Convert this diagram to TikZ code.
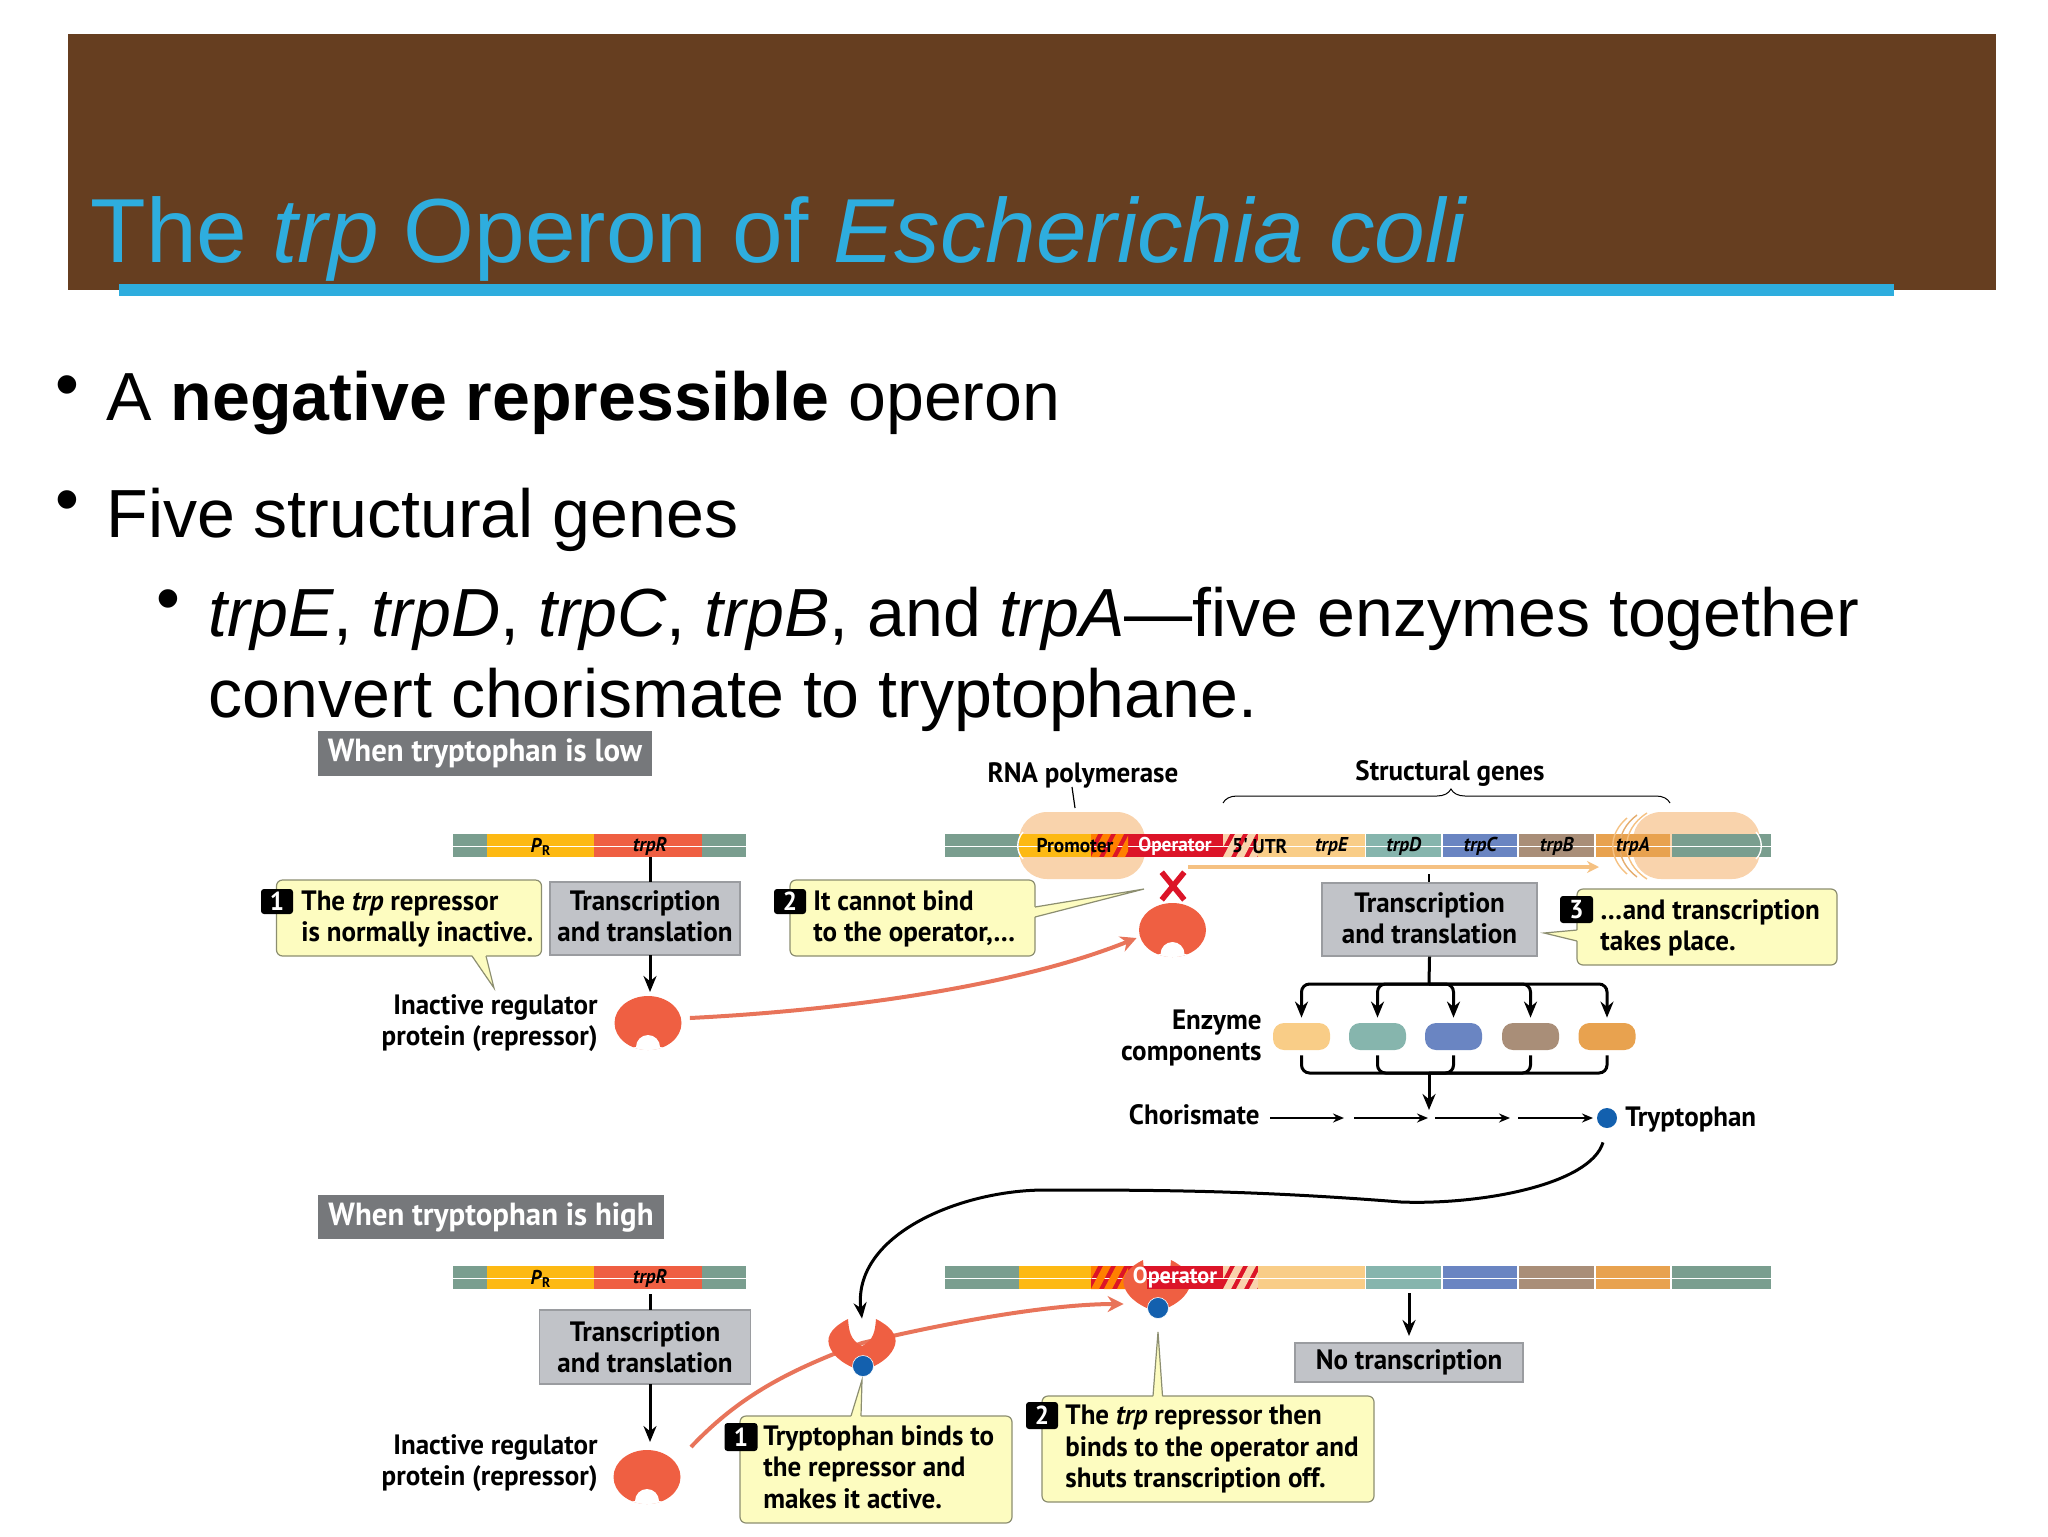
\documentclass[tikz,border=0pt]{standalone}
\usepackage{fontspec}
\setmainfont{Liberation Sans}
\newfontfamily\figfont[FakeStretch=0.965]{PT Sans}
\usetikzlibrary{arrows.meta,shapes.geometric,shapes.misc,positioning}
\usetikzlibrary{decorations.pathreplacing}

\definecolor{headbrown}{HTML}{663E20}
\definecolor{titleblue}{HTML}{2EADDE}
\definecolor{labelgrey}{HTML}{76787B}
\definecolor{boxgrey}{HTML}{C1C3C8}
\definecolor{boxedge}{HTML}{9A9CA0}
\definecolor{noteyellow}{HTML}{FDFCC0}
\definecolor{noteedge}{HTML}{8C8E70}
\definecolor{dnagreen}{HTML}{7A9E8F}
\definecolor{promyellow}{HTML}{FDB913}
\definecolor{repred}{HTML}{EF5F42}
\definecolor{oprred}{HTML}{DC1428}
\definecolor{peach}{HTML}{F9CD87}
\definecolor{polpeach}{HTML}{F9D3AC}
\definecolor{tealgene}{HTML}{86B5AD}
\definecolor{bluegene}{HTML}{6A85C2}
\definecolor{browngene}{HTML}{A98E78}
\definecolor{orangegene}{HTML}{E8A24F}
\definecolor{dotblue}{HTML}{1360AE}
\definecolor{curvered}{HTML}{E8745A}
\definecolor{rnaorange}{HTML}{F5C182}

\tikzset{
  boxsize/.style 2 args={minimum width=#1*0.5pt, minimum height=#2*0.5pt, inner sep=0pt},
  bullettext/.style={anchor=base west, inner sep=0pt, font=\fontsize{34.05}{40}\selectfont},
  bulletdot/.style={anchor=base, inner sep=0pt, font=\fontsize{34.05}{40}\selectfont},
  figtext/.style={inner sep=0pt, align=left, font=\figfont\bfseries\fontsize{14}{15.7}\selectfont},
  genetext/.style={inner sep=0pt, font=\figfont\bfseries\fontsize{10}{12}\selectfont},
  headlabel/.style={fill=labelgrey, text=white, inner sep=0pt, font=\figfont\bfseries\fontsize{16}{16}\selectfont},
  stepgrey/.style={fill=boxgrey, draw=boxedge, line width=0.6pt},
  notebox/.style={fill=noteyellow, draw=noteedge, line width=0.6pt, rounded corners=3pt},
  notetail/.style={fill=noteyellow},
  notetailedge/.style={draw=noteedge, line width=0.6pt},
  badge/.style={fill=black, text=white, rounded corners=1.5pt, inner sep=0pt, font=\figfont\bfseries\fontsize{13}{14}\selectfont},
  flow/.style={draw=black, line width=1.5pt, -{Stealth[length=8pt,width=6.5pt]}},
  trunk/.style={draw=black, line width=1.5pt},
  smallflow/.style={draw=black, line width=0.9pt, -{Stealth[length=5.5pt,width=4.5pt]}},
  reparrow/.style={draw=curvered, line width=2pt, -{Stealth[length=8pt,width=8pt]}},
  repblob/.style={ellipse, fill=repred, inner sep=0pt, minimum width=33.5pt, minimum height=27pt,
    path picture={
      \fill[white] ([xshift=-12pt,yshift=1.5pt]path picture bounding box.south) rectangle ([xshift=12pt]path picture bounding box.south);
      \fill[white] ([yshift=1.5pt]path picture bounding box.south) ellipse (6pt and 6pt);
    }},
  enzyme/.style={boxsize={57}{27}, rounded corners=5.5pt},
  activeshape/.pic={
    \fill[repred] (-14,-24) .. controls (-28,-17) and (-36,-8) .. (-33,2)
      .. controls (-30,12) and (-20,20) .. (-8,25) -- (8,25)
      .. controls (20,20) and (30,12) .. (33,2)
      .. controls (36,-8) and (28,-17) .. (14,-24)
      .. controls (13,-12) and (12,-3) .. (0,3)
      .. controls (-12,-3) and (-13,-12) .. (-14,-24) -- cycle;
  }
}

% bar of segments, #1 = top edge
\newcommand{\leftbar}[1]{
  \foreach \xa/\xb/\col in {453/487/dnagreen,487/594/promyellow,594/702/repred,702/746/dnagreen}
    \fill[\col] (\xa,#1) rectangle (\xb,#1+23);
  \draw[white, line width=0.5pt] (453,#1+12) -- (746,#1+12);
}
\newcommand{\rightbar}[1]{
  \foreach \xa/\xb/\col in {945/1019/dnagreen,1019/1091/promyellow,1091/1258/oprred,1258/1365/peach,1366/1441/tealgene,1443/1517/bluegene,1519/1594/browngene,1596/1670/orangegene,1672/1771/dnagreen}
    \fill[\col] (\xa,#1) rectangle (\xb,#1+23);
  \draw[white, line width=0.5pt] (945,#1+12) -- (1771,#1+12);
}
% striped part of the operator
\newcommand{\stripes}[4]{
  \begin{scope}
    \clip (#1,#3) rectangle (#2,#3+23);
    \foreach \s in {-13,0,13,26,39}
      \fill[#4] ({#1+\s},#3+23) -- ({#1+\s+8},#3+23) -- ({#1+\s+20},#3) -- ({#1+\s+12},#3) -- cycle;
  \end{scope}
}

\begin{document}
\begin{tikzpicture}[x=0.5pt,y=-0.5pt]
  \useasboundingbox (0,0) rectangle (2048,1536);
  % header
  \fill[headbrown] (68,34) rectangle (1996,290);
  \fill[titleblue] (119,284) rectangle (1894,296);
  \node[anchor=base west, inner sep=0pt, text=titleblue, font=\fontsize{45.5}{50}\selectfont] (title) at (90,262) {The \textit{trp} Operon of \textit{Escherichia coli}};

  % slide text
  \node[bulletdot] (dotA) at (67,407) {•};
  \node[bullettext] (lineA) at (106,420) {A \textbf{negative repressible} operon};
  \node[bulletdot] (dotB) at (67,522) {•};
  \node[bullettext] (lineB) at (106,537) {Five structural genes};
  \node[bulletdot] (dotC) at (168,621) {•};
  \node[bullettext] (lineC) at (208.5,636) {\textit{trpE}, \textit{trpD}, \textit{trpC}, \textit{trpB}, and \textit{trpA}—five enzymes together};
  \node[bullettext] (lineD) at (208.5,717) {convert chorismate to tryptophane.};

  % when low, left part
  \node[headlabel, boxsize={334}{45}] (lowHead) at (485,753.5) {\raisebox{-2pt}{When tryptophan is low}};
  \leftbar{834}
  \node[genetext] (lowPr) at (541,847) {\textit{P}\textsubscript{R}};
  \node[genetext] (lowTrpR) at (650,846) {\textit{trpR}};
  \node[stepgrey, boxsize={190}{73}, figtext, align=center] (lowStep) at (645,918.5) {\raisebox{2.5pt}{Transcription}\\\raisebox{2.5pt}{and translation}};
  \node[repblob] (repA) at (648,1023) {};
  \draw[trunk] (650,857) -- (650,882);
  \draw[flow] (650,955) -- (650,992);
  \node[figtext, anchor=east, align=right] (lowInact) at (598,1023) {Inactive regulator\\protein (repressor)};
  % note 1
  \node[notebox, boxsize={265}{76}] (lowNoteA) at (409,918) {};
  \coordinate (lowTipA) at (494,988);
  \fill[notetail] (472,955) -- (lowTipA) -- (486,955) -- cycle;
  \draw[notetailedge] (472,956) -- (lowTipA) -- (486,956);
  \node[figtext, anchor=west] (lowTextA) at (301,919) {The \textit{trp} repressor\\is normally inactive.};
  \node[badge, boxsize={32}{25}] (lowNumA) at (277,901.5) {1};
  % note 2
  \node[notebox, boxsize={245}{76}] (lowNoteB) at (912.5,918) {};
  \coordinate (lowTipB) at (1144,889);
  \fill[notetail] (1034,907) -- (lowTipB) -- (1034,917) -- cycle;
  \draw[notetailedge] (1035,907) -- (lowTipB) -- (1035,917);
  \node[figtext, anchor=west] (lowTextB) at (813,919) {It cannot bind\\to the operator,\ldots};
  \node[badge, boxsize={32}{25}] (lowNumB) at (790,901.5) {2};

  % when low, operon
  \node[fill=polpeach, boxsize={126}{67}, rounded corners=14pt] (polL) at (1082,845.5) {};
  \node[fill=polpeach, boxsize={127}{67}, rounded corners=14pt] (polR) at (1696.5,845.5) {};
  \rightbar{834}
  \stripes{1091}{1128}{834}{orange}
  \stripes{1223}{1258}{834}{polpeach}
  \draw[white, line width=0.7pt] (1023,832) .. controls (1016,840) and (1016,852) .. (1023,859);
  \draw[white, line width=0.7pt] (1756,832) .. controls (1763,840) and (1763,852) .. (1756,859);
  \draw[rnaorange, line width=0.7pt] (1647,813) .. controls (1620,830) and (1620,862) .. (1647,879);
  \draw[rnaorange!70!brown, line width=0.7pt] (1637,815) .. controls (1614,832) and (1614,860) .. (1637,877);
  \draw[rnaorange, line width=0.7pt] (1627,818) .. controls (1608,834) and (1608,858) .. (1627,874);
  \node[genetext] (promo) at (1075,846) {Promoter};
  \node[genetext, text=white] (oper) at (1175,846) {Operator};
  \node[genetext] (fiveA) at (1240,846) {5'};
  \node[genetext] (utr) at (1270,847) {UTR};
  \node[genetext] (geneE) at (1332,846) {\textit{trpE}};
  \node[genetext] (geneD) at (1404,846) {\textit{trpD}};
  \node[genetext] (geneC) at (1481,846) {\textit{trpC}};
  \node[genetext] (geneB) at (1557,846) {\textit{trpB}};
  \node[genetext] (geneA) at (1633,846) {\textit{trpA}};
  \draw[rnaorange, line width=1.8pt, -{Stealth[length=6pt,width=6pt]}] (1188,867) -- (1599,867);
  \node[figtext, anchor=base] (rnapol) at (1083,782) {RNA polymerase};
  \draw[line width=0.6pt] (1072,787) -- (1075,808);
  \node[figtext, anchor=base] (strgenes) at (1450,780) {Structural genes};
  \coordinate (braceL) at (1223,803);
  \coordinate (braceR) at (1670,803);
  \draw[line width=0.5pt, decorate, decoration={brace, amplitude=7pt, aspect=0.51}] (braceL) -- (braceR);
  \node[cross out, draw=oprred, line width=2.8pt, boxsize={17}{22}] (nobind) at (1173,886) {};
  \node[repblob] (repC) at (1172.5,930) {};
  \draw[reparrow] ([xshift=4pt,yshift=2.5pt]repA.east) .. controls (850,1010) and (1020,985) .. ([xshift=-1pt,yshift=-4pt]repC.west);

  \draw[line width=0.7pt] (1429,874) -- (1429,883);
  \node[stepgrey, boxsize={215}{73}, figtext, align=center] (upStep) at (1429.5,919.5) {\raisebox{1.5pt}{Transcription}\\\raisebox{1.5pt}{and translation}};
  % note 3
  \node[notebox, boxsize={260}{76}] (upNote) at (1707,927) {};
  \coordinate (upTip) at (1544,933);
  \fill[notetail] (1578,930) -- (upTip) -- (1578,941) -- cycle;
  \draw[notetailedge] (1577,930) -- (upTip) -- (1577,941);
  \node[figtext, anchor=west] (upText) at (1600,928) {\ldots and transcription\\takes place.};
  \node[badge, boxsize={33}{27}] (upNum) at (1576.5,909.5) {3};

  % enzymes
  \coordinate (split) at (1429,984);
  \coordinate (collect) at (1429,1073);
  \node[enzyme, fill=peach] (enzE) at (1301.5,1036.5) {};
  \node[enzyme, fill=tealgene] (enzD) at (1377.5,1036.5) {};
  \node[enzyme, fill=bluegene] (enzC) at (1453.5,1036.5) {};
  \node[enzyme, fill=browngene] (enzB) at (1530.5,1036.5) {};
  \node[enzyme, fill=orangegene] (enzA) at (1607,1036.5) {};
  \draw[trunk] (upStep.south) -- (split);
  \foreach \n in {enzE,enzD,enzC,enzB,enzA} {
    \draw[flow, rounded corners=4pt] (split) -| ([yshift=2.5pt]\n.north);
    \draw[trunk, rounded corners=4pt] ([yshift=-2.5pt]\n.south) |- (collect);
  }
  \node[figtext, anchor=east, align=right] (enzText) at (1262,1038) {Enzyme\\components};
  \coordinate (chemA) at (1270,1118);
  \coordinate (chemB) at (1344,1118);
  \coordinate (chemC) at (1354,1118);
  \coordinate (chemD) at (1428,1118);
  \coordinate (chemE) at (1435,1118);
  \coordinate (chemF) at (1510,1118);
  \coordinate (chemG) at (1518,1118);
  \coordinate (chemH) at (1593,1118);
  \draw[flow] (collect) -- (1429,1110);
  \draw[smallflow] (chemA) -- (chemB);
  \draw[smallflow] (chemC) -- (chemD);
  \draw[smallflow] (chemE) -- (chemF);
  \draw[smallflow] (chemG) -- (chemH);
  \node[figtext, anchor=base east] (chor) at (1260,1124) {Chorismate};
  \node[circle, fill=dotblue, boxsize={20}{20}] (trpDot) at (1607,1118) {};
  \node[figtext, anchor=base west] (trpText) at (1625,1126) {Tryptophan};

  % when high, left part
  \node[headlabel, boxsize={346}{44}] (highHead) at (491,1217) {\raisebox{-2pt}{When tryptophan is high}};
  \leftbar{1266}
  \node[genetext] (highPr) at (541,1279) {\textit{P}\textsubscript{R}};
  \node[genetext] (highTrpR) at (650,1278) {\textit{trpR}};
  \node[stepgrey, boxsize={211}{74}, figtext, align=center] (highStep) at (645,1347) {Transcription\\and translation};
  \draw[trunk] (650,1294) -- (650,1310);
  \draw[flow] (650,1384) -- (650,1442);
  \node[figtext, anchor=east, align=right] (highInact) at (598,1463) {Inactive regulator\\protein (repressor)};
  \node[repblob] (repD) at (647,1477) {};

  % when high, operon
  \rightbar{1266}
  \stripes{1091}{1128}{1266}{orange}
  \node[boxsize={66}{48}] (repE) at (1157,1284) {};
  \pic at (repE) {activeshape};
  \fill[oprred] (1147,1266) rectangle (1223,1289);
  \stripes{1223}{1258}{1266}{polpeach}
  \draw[white, line width=0.5pt] (1147,1278) -- (1258,1278);
  \node[genetext, text=white, font=\figfont\bfseries\fontsize{11.5}{12}\selectfont] (operB) at (1175,1278) {Operator};
  \node[circle, fill=dotblue, draw=white, line width=0.3pt, boxsize={21}{21}] (dotE) at (1158,1308) {};

  % repressor with tryptophan
  \node[boxsize={66}{48}] (repB) at (862,1343) {};
  \coordinate (riseA) at (691,1447);
  \draw[reparrow] (riseA) .. controls (740,1395) and (790,1370) .. (repB.center) .. controls (950,1322) and (1050,1304) .. ([yshift=-10pt]repE.west);
  \pic at (repB) {activeshape};
  \node[circle, fill=dotblue, draw=white, line width=0.3pt, boxsize={21}{21}] (dotB2) at (863,1366) {};
  % long curve back
  \draw[flow] ([xshift=-2pt,yshift=-7pt]trpDot.south) .. controls (1590,1185) and (1480,1205) .. (1401,1202) .. controls (1250,1190) and (1150,1190) .. (1045,1190) .. controls (960,1190) and (852,1235) .. (repB.north);

  % note under the repressor
  \node[notebox, boxsize={272}{107}] (highNoteA) at (876,1469.5) {};
  \coordinate (highTipA) at (862,1380);
  \fill[notetail] (851,1417) -- (highTipA) -- (861,1417) -- cycle;
  \draw[notetailedge] (851,1416) -- (highTipA) -- (861,1416);
  \node[figtext, anchor=west] (highTextA) at (763,1467) {Tryptophan binds to\\the repressor and\\makes it active.};
  \node[badge, boxsize={33}{28}] (highNumA) at (741,1437) {1};
  % note under the operator
  \node[notebox, boxsize={332}{106}] (highNoteB) at (1208,1449) {};
  \coordinate (highTipB) at (1158,1332);
  \fill[notetail] (1153,1397) -- (highTipB) -- (1162.5,1397) -- cycle;
  \draw[notetailedge] (1153,1396) -- (highTipB) -- (1162.5,1396);
  \node[figtext, anchor=west] (highTextB) at (1065,1449) {The \textit{trp} repressor then\\binds to the operator and\\shuts transcription off.};
  \node[badge, boxsize={32}{27}] (highNumB) at (1042,1415.5) {2};

  \node[stepgrey, boxsize={228}{39}, figtext, align=center] (noTrans) at (1409,1362.5) {No transcription};
  \draw[flow] (1409,1293) -- (1409,1336);
\end{tikzpicture}
\end{document}
